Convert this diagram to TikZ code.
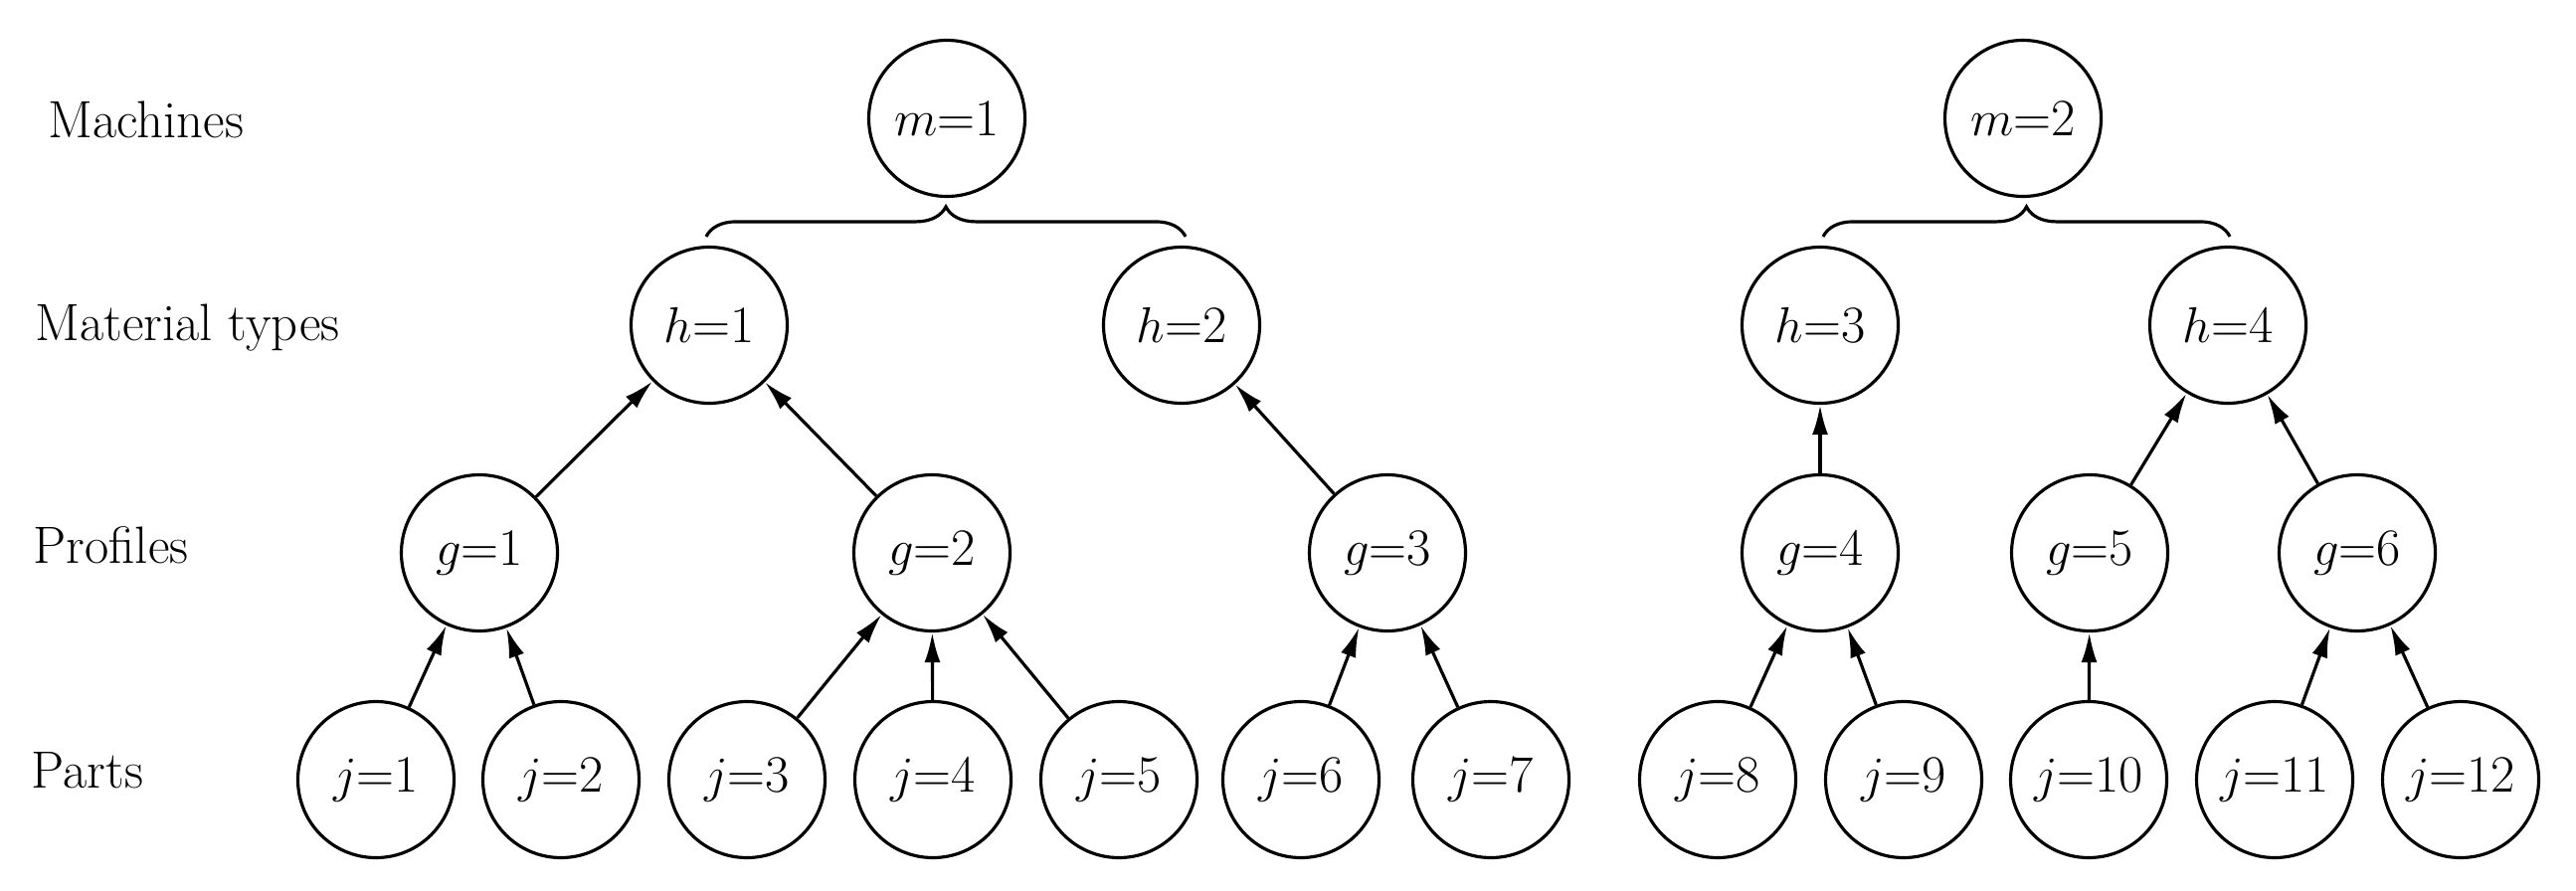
\documentclass[tikz,border=0pt]{standalone}
\usepackage{tikz}
\usetikzlibrary{
  	arrows.meta,
	decorations.pathreplacing,
  	calc
  }
\tikzstyle{vtx}=[circle,draw,line width=0.9pt,minimum size=1.57cm,inner sep=0pt,font=\fontsize{15}{18}\selectfont]
\tikzstyle{lvl}=[anchor=west,inner sep=0pt,font=\fontsize{15}{18}\selectfont]
\tikzstyle{arr}=[line width=0.9pt,-{Latex[length=3mm,width=1.6mm]}]
\tikzstyle{brc}=[line width=0.9pt,decorate,decoration={brace,amplitude=0.3cm}]

\begin{document}
\begin{tikzpicture}
  \useasboundingbox (0,0) rectangle (25.9,-8.95);
  \node[lvl] (lm) at (0.48,-1.20) {Machines};
  \node[lvl] (lh) at (0.35,-3.30) {Material types};
  \node[lvl] (lg) at (0.33,-5.48) {Profiles};
  \node[lvl] (lj) at (0.31,-7.75) {Parts};
%
  \node[vtx] (m1) at (9.52,-1.19) {$m$=1};
  \node[vtx] (m2) at (20.34,-1.19) {$m$=2};
  \node[vtx] (h1) at (7.13,-3.27) {$h$=1};
  \node[vtx] (h2) at (11.88,-3.27) {$h$=2};
  \node[vtx] (h3) at (18.30,-3.27) {$h$=3};
  \node[vtx] (h4) at (22.40,-3.27) {$h$=4};
  \node[vtx] (g1) at (4.82,-5.56) {$g$=1};
  \node[vtx] (g2) at (9.37,-5.56) {$g$=2};
  \node[vtx] (g3) at (13.95,-5.56) {$g$=3};
  \node[vtx] (g4) at (18.30,-5.56) {$g$=4};
  \node[vtx] (g5) at (21.01,-5.56) {$g$=5};
  \node[vtx] (g6) at (23.70,-5.56) {$g$=6};
  \foreach \x [count=\i] in {3.78,5.64,7.51,9.38,11.25,13.08,14.99,17.27,19.14,21.00,22.87,24.74}
    \node[vtx] (j\i) at (\x,-7.84) {$j$=\i};
%
  \foreach \a/\b in {j1/g1,j2/g1,j3/g2,j4/g2,j5/g2,j6/g3,j7/g3,j8/g4,j9/g4,j10/g5,j11/g6,j12/g6,
                     g1/h1,g2/h1,g3/h2,g4/h3,g5/h4,g6/h4}
    \draw[arr] (\a) -- (\b);
%
  \draw[brc] ($(h1.north)+(-0.03,0.09)$) -- ($(h2.north)+(0.04,0.09)$);
  \draw[brc] ($(h3.north)+(0.03,0.09)$) -- ($(h4.north)+(0.02,0.09)$);
\end{tikzpicture}
\end{document}
